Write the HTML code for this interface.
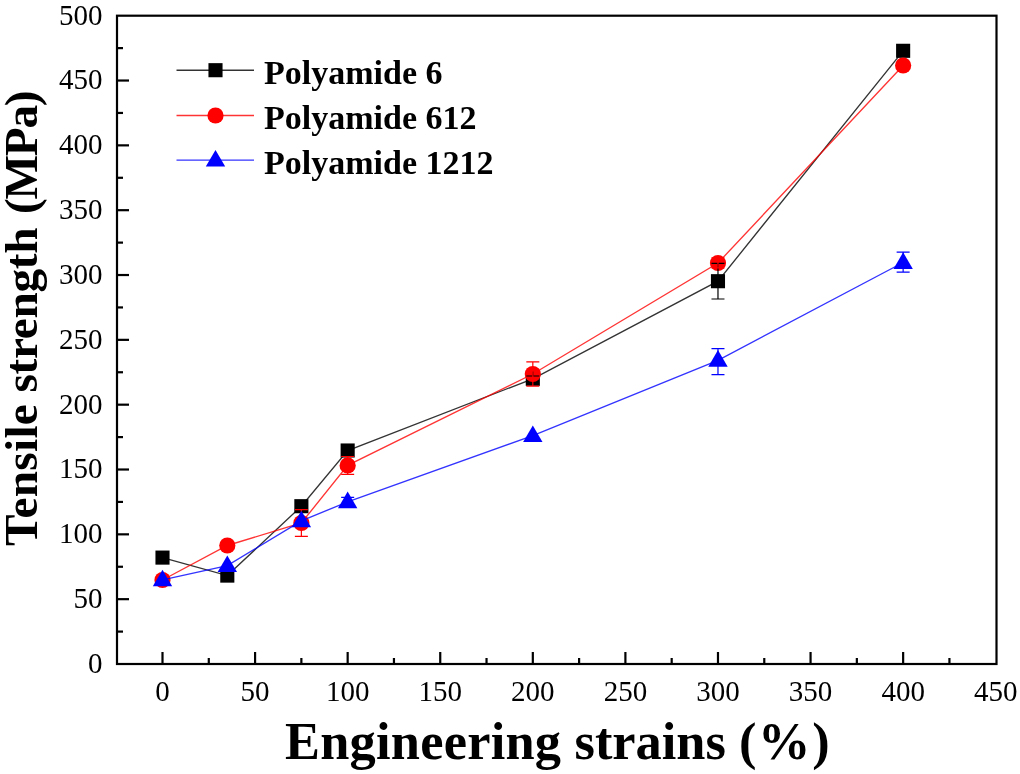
<!DOCTYPE html>
<html lang="en"><head><meta charset="utf-8"><title>Tensile strength vs engineering strains</title>
<style>html,body{margin:0;padding:0;background:#fff}svg{display:block}text{font-family:"Liberation Serif","Times New Roman",serif;fill:#000}.b{font-weight:bold}</style>
</head><body>
<svg width="1020" height="774" viewBox="0 0 1020 774">
<rect width="1020" height="774" fill="#fff"/>
<g stroke="#000" stroke-width="2.2" fill="none">
<line x1="117.0" y1="631.59" x2="123.0" y2="631.59"/>
<line x1="117.0" y1="599.17" x2="129.0" y2="599.17"/>
<line x1="117.0" y1="566.75" x2="123.0" y2="566.75"/>
<line x1="117.0" y1="534.34" x2="129.0" y2="534.34"/>
<line x1="117.0" y1="501.93" x2="123.0" y2="501.93"/>
<line x1="117.0" y1="469.51" x2="129.0" y2="469.51"/>
<line x1="117.0" y1="437.10" x2="123.0" y2="437.10"/>
<line x1="117.0" y1="404.68" x2="129.0" y2="404.68"/>
<line x1="117.0" y1="372.26" x2="123.0" y2="372.26"/>
<line x1="117.0" y1="339.85" x2="129.0" y2="339.85"/>
<line x1="117.0" y1="307.44" x2="123.0" y2="307.44"/>
<line x1="117.0" y1="275.02" x2="129.0" y2="275.02"/>
<line x1="117.0" y1="242.61" x2="123.0" y2="242.61"/>
<line x1="117.0" y1="210.19" x2="129.0" y2="210.19"/>
<line x1="117.0" y1="177.78" x2="123.0" y2="177.78"/>
<line x1="117.0" y1="145.36" x2="129.0" y2="145.36"/>
<line x1="117.0" y1="112.95" x2="123.0" y2="112.95"/>
<line x1="117.0" y1="80.53" x2="129.0" y2="80.53"/>
<line x1="117.0" y1="48.12" x2="123.0" y2="48.12"/>
<line x1="162.50" y1="664.0" x2="162.50" y2="652.0"/>
<line x1="208.79" y1="664.0" x2="208.79" y2="658.0"/>
<line x1="255.08" y1="664.0" x2="255.08" y2="652.0"/>
<line x1="301.37" y1="664.0" x2="301.37" y2="658.0"/>
<line x1="347.66" y1="664.0" x2="347.66" y2="652.0"/>
<line x1="393.95" y1="664.0" x2="393.95" y2="658.0"/>
<line x1="440.24" y1="664.0" x2="440.24" y2="652.0"/>
<line x1="486.53" y1="664.0" x2="486.53" y2="658.0"/>
<line x1="532.82" y1="664.0" x2="532.82" y2="652.0"/>
<line x1="579.11" y1="664.0" x2="579.11" y2="658.0"/>
<line x1="625.40" y1="664.0" x2="625.40" y2="652.0"/>
<line x1="671.69" y1="664.0" x2="671.69" y2="658.0"/>
<line x1="717.98" y1="664.0" x2="717.98" y2="652.0"/>
<line x1="764.27" y1="664.0" x2="764.27" y2="658.0"/>
<line x1="810.56" y1="664.0" x2="810.56" y2="652.0"/>
<line x1="856.85" y1="664.0" x2="856.85" y2="658.0"/>
<line x1="903.14" y1="664.0" x2="903.14" y2="652.0"/>
<line x1="949.43" y1="664.0" x2="949.43" y2="658.0"/>
<rect x="117.0" y="15.7" width="879.5" height="648.3"/>
</g>
<g font-size="29">
<text x="102.6" y="672.90" text-anchor="end">0</text>
<text x="102.6" y="608.07" text-anchor="end">50</text>
<text x="102.6" y="543.24" text-anchor="end">100</text>
<text x="102.6" y="478.41" text-anchor="end">150</text>
<text x="102.6" y="413.58" text-anchor="end">200</text>
<text x="102.6" y="348.75" text-anchor="end">250</text>
<text x="102.6" y="283.92" text-anchor="end">300</text>
<text x="102.6" y="219.09" text-anchor="end">350</text>
<text x="102.6" y="154.26" text-anchor="end">400</text>
<text x="102.6" y="89.43" text-anchor="end">450</text>
<text x="102.6" y="24.60" text-anchor="end">500</text>
<text x="162.50" y="701.3" text-anchor="middle">0</text>
<text x="255.08" y="701.3" text-anchor="middle">50</text>
<text x="347.66" y="701.3" text-anchor="middle">100</text>
<text x="440.24" y="701.3" text-anchor="middle">150</text>
<text x="532.82" y="701.3" text-anchor="middle">200</text>
<text x="625.40" y="701.3" text-anchor="middle">250</text>
<text x="717.98" y="701.3" text-anchor="middle">300</text>
<text x="810.56" y="701.3" text-anchor="middle">350</text>
<text x="903.14" y="701.3" text-anchor="middle">400</text>
<text x="995.72" y="701.3" text-anchor="middle">450</text>
</g>
<g class="b" font-size="52.4">
<text x="285.0" y="758.5" textLength="276.0" lengthAdjust="spacing">Engineering</text>
<text x="574.5" y="758.5">strains</text>
<text x="739.0" y="758.5" textLength="90.6" lengthAdjust="spacing">(%)</text>
</g>
<g class="b" font-size="47.3" transform="translate(37.1 0) rotate(-90)">
<text x="-546" y="0" textLength="141.8" lengthAdjust="spacing">Tensile</text>
<text x="-392.5" y="0" textLength="165" lengthAdjust="spacing">strength</text>
<text x="-214" y="0" textLength="123.6" lengthAdjust="spacing">(MPa)</text>
</g>
<polyline points="162.50,557.60 227.31,575.60 301.37,506.20 347.66,450.50 532.82,378.80 717.98,281.20 903.14,50.80" fill="none" stroke="#000" stroke-width="1.35" stroke-opacity="0.8"/>
<rect x="155.45" y="550.55" width="14.1" height="14.1" fill="#000"/>
<rect x="220.26" y="568.55" width="14.1" height="14.1" fill="#000"/>
<rect x="294.32" y="499.15" width="14.1" height="14.1" fill="#000"/>
<rect x="340.61" y="443.45" width="14.1" height="14.1" fill="#000"/>
<rect x="525.77" y="371.75" width="14.1" height="14.1" fill="#000"/>
<rect x="710.93" y="274.15" width="14.1" height="14.1" fill="#000"/>
<rect x="896.09" y="43.75" width="14.1" height="14.1" fill="#000"/>
<polyline points="162.50,580.00 227.31,545.50 301.37,523.00 347.66,465.40 532.82,374.00 717.98,263.00 903.14,65.50" fill="none" stroke="#f00" stroke-width="1.35" stroke-opacity="0.8"/>
<circle cx="162.50" cy="580.00" r="8.1" fill="#f00"/>
<circle cx="227.31" cy="545.50" r="8.1" fill="#f00"/>
<circle cx="301.37" cy="523.00" r="8.1" fill="#f00"/>
<circle cx="347.66" cy="465.40" r="8.1" fill="#f00"/>
<circle cx="532.82" cy="374.00" r="8.1" fill="#f00"/>
<circle cx="717.98" cy="263.00" r="8.1" fill="#f00"/>
<circle cx="903.14" cy="65.50" r="8.1" fill="#f00"/>
<g stroke="#000" stroke-width="1.2" fill="none">
<path d="M717.98 263.40V299.00M711.48 263.40h13M711.48 299.00h13"/>
</g>
<path d="M526.32 376h13M532.82 371.5V376" stroke="#000" stroke-width="1.2" fill="none"/>
<g stroke="#f00" stroke-width="1.2" fill="none">
<path d="M301.37 509.70V536.30M294.87 509.70h13M294.87 536.30h13"/>
<path d="M347.66 456.50V474.30M341.16 456.50h13M341.16 474.30h13"/>
<path d="M532.82 361.80V386.20M526.32 361.80h13M526.32 386.20h13"/>
<path d="M717.98 258.00V268.00M711.48 258.00h13M711.48 268.00h13"/>
</g>
<polyline points="162.50,579.90 227.31,565.60 301.37,520.90 347.66,501.80 532.82,435.60 717.98,360.30 903.14,262.50" fill="none" stroke="#00f" stroke-width="1.35" stroke-opacity="0.8"/>
<path d="M162.50 569.70L172.20 586.30H152.80Z" fill="#00f"/>
<path d="M227.31 555.40L237.01 572.00H217.61Z" fill="#00f"/>
<path d="M301.37 510.70L311.07 527.30H291.67Z" fill="#00f"/>
<path d="M347.66 491.60L357.36 508.20H337.96Z" fill="#00f"/>
<path d="M532.82 425.40L542.52 442.00H523.12Z" fill="#00f"/>
<path d="M717.98 350.10L727.68 366.70H708.28Z" fill="#00f"/>
<path d="M903.14 252.30L912.84 268.90H893.44Z" fill="#00f"/>
<g stroke="#00f" stroke-width="1.2" fill="none">
<path d="M347.66 497.40V507.40M341.16 497.40h13M341.16 507.40h13"/>
<path d="M717.98 348.70V374.70M711.48 348.70h13M711.48 374.70h13"/>
<path d="M903.14 252.10V272.10M896.64 252.10h13M896.64 272.10h13"/>
</g>
<line x1="176.5" y1="70.2" x2="254" y2="70.2" stroke="#000" stroke-width="1.35" stroke-opacity="0.8"/>
<rect x="208.45" y="63.15" width="14.1" height="14.1" fill="#000"/>
<text class="b" font-size="34" x="264" y="84.1">Polyamide 6</text>
<line x1="176.5" y1="115.5" x2="254" y2="115.5" stroke="#f00" stroke-width="1.35" stroke-opacity="0.8"/>
<circle cx="215.50" cy="115.50" r="8.1" fill="#f00"/>
<text class="b" font-size="34" x="264" y="129.4">Polyamide 612</text>
<line x1="176.5" y1="160.1" x2="254" y2="160.1" stroke="#00f" stroke-width="1.35" stroke-opacity="0.8"/>
<path d="M215.50 149.90L225.20 166.50H205.80Z" fill="#00f"/>
<text class="b" font-size="34" x="264" y="174.0">Polyamide 1212</text>
</svg></body></html>
